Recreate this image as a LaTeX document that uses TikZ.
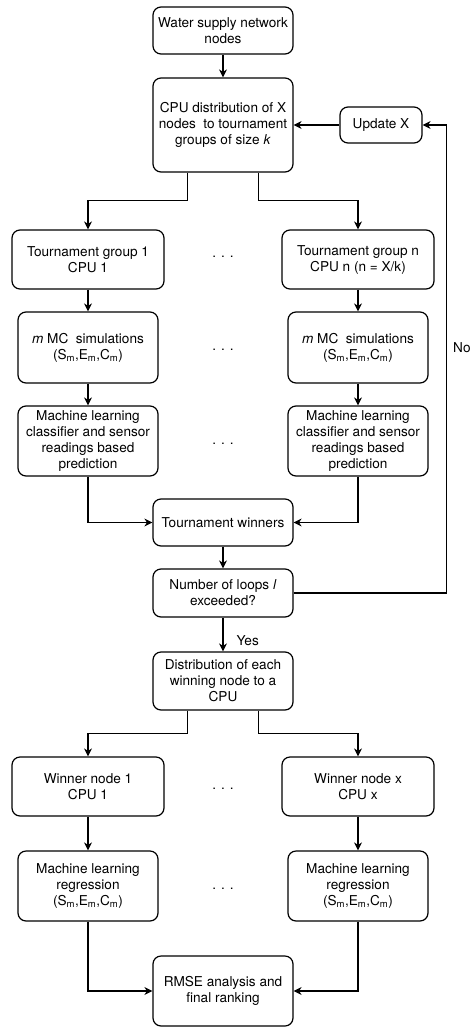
\documentclass[tikz,border=0pt]{standalone}
\usepackage{fontspec}
\setmainfont{TeX Gyre Heros}
\usetikzlibrary{arrows.meta}
\tikzset{
  box/.style={draw, line width=1.2pt, rounded corners=8pt, align=center, inner sep=0pt,
    font=\fontsize{13.6}{16}\selectfont},
  arr/.style={line width=1.2pt, -{Stealth[length=8pt,width=8pt,inset=2.5pt]}},
  ln/.style={line width=1.2pt},
  lbl/.style={font=\fontsize{13.6}{16}\selectfont, inner sep=0pt},
  dots/.style={font=\fontsize{13.6}{16}\selectfont, inner sep=0pt}
}
\newcommand{\sme}{(S\textsubscript{m},E\textsubscript{m},C\textsubscript{m})}
\begin{document}
\begin{tikzpicture}[x=1pt,y=-1pt]
\useasboundingbox (0,0) rectangle (474,1031);
\node[box, minimum width=140pt, minimum height=47pt] (water) at (223,30.5) {Water supply network\\nodes};
\node[box, minimum width=140pt, minimum height=94pt] (cpu) at (223,125) {CPU distribution of X\\nodes\ \ to tournament\\groups of size \textit{k}};
\node[box, minimum width=82pt, minimum height=36pt] (upd) at (381,125) {Update X};
\node[box, minimum width=152pt, minimum height=59pt] (tg1) at (88,259.5) {Tournament group 1\\CPU 1};
\node[box, minimum width=152pt, minimum height=59pt] (tgn) at (358,259.5) {Tournament group n\\CPU n (n = X/k)};
\node[box, minimum width=140pt, minimum height=71pt] (mc1) at (88,347.5) {\textit{m} MC\ \ simulations\\\sme};
\node[box, minimum width=140pt, minimum height=71pt] (mcn) at (358,347.5) {\textit{m} MC\ \ simulations\\\sme};
\node[box, minimum width=140pt, minimum height=70pt] (ml1) at (88,441) {Machine learning\\classifier and sensor\\readings based\\prediction};
\node[box, minimum width=140pt, minimum height=70pt] (mln) at (358,441) {Machine learning\\classifier and sensor\\readings based\\prediction};
\node[box, minimum width=140pt, minimum height=47pt] (tw) at (223,522.5) {Tournament winners};
\node[box, minimum width=140pt, minimum height=48pt] (loops) at (223,593) {Number of loops \textit{l}\\exceeded?};
\node[box, minimum width=140pt, minimum height=58pt] (dist) at (223,681) {Distribution of each\\winning node to a\\CPU};
\node[box, minimum width=152pt, minimum height=59pt] (wn1) at (88,786.5) {Winner node 1\\CPU 1};
\node[box, minimum width=152pt, minimum height=59pt] (wnx) at (358,786.5) {Winner node x\\CPU x};
\node[box, minimum width=140pt, minimum height=70pt] (mr1) at (88,886) {Machine learning\\regression\\\sme};
\node[box, minimum width=140pt, minimum height=70pt] (mrx) at (358,886) {Machine learning\\regression\\\sme};
\node[box, minimum width=140pt, minimum height=70pt] (rmse) at (223,991) {RMSE analysis and\\final ranking};
% dots
\node[dots] (d1) at (223,257) {. . .};
\node[dots] (d2) at (223,350) {. . .};
\node[dots] (d3) at (223,444) {. . .};
\node[dots] (d4) at (223,789) {. . .};
\node[dots] (d5) at (223,889) {. . .};
% connectors
\draw[arr] (water) -- (cpu);
\draw[arr] (upd) -- (cpu);
\draw[arr] ([xshift=35pt]cpu.south west) -- ++(0,28) -| (tg1.north);
\draw[arr] ([xshift=-35pt]cpu.south east) -- ++(0,28) -| (tgn.north);
\draw[arr] (tg1) -- (mc1);
\draw[arr] (tgn) -- (mcn);
\draw[arr] (mc1) -- (ml1);
\draw[arr] (mcn) -- (mln);
\draw[arr] (ml1.south) |- (tw.west);
\draw[arr] (mln.south) |- (tw.east);
\draw[arr] (tw) -- (loops);
\draw[arr] (loops.east) -- ++(153,0) coordinate (c1) |- (upd.east);
\node[lbl, anchor=west] (no) at (453,348) {No};
\draw[arr] (loops) -- node[lbl, anchor=west, xshift=13pt, yshift=-6pt] (yes) {Yes} (dist);
\draw[arr] ([xshift=35pt]dist.south west) -- ++(0,23) -| (wn1.north);
\draw[arr] ([xshift=-35pt]dist.south east) -- ++(0,23) -| (wnx.north);
\draw[arr] (wn1) -- (mr1);
\draw[arr] (wnx) -- (mrx);
\draw[arr] (mr1.south) |- (rmse.west);
\draw[arr] (mrx.south) |- (rmse.east);
\end{tikzpicture}
\end{document}
